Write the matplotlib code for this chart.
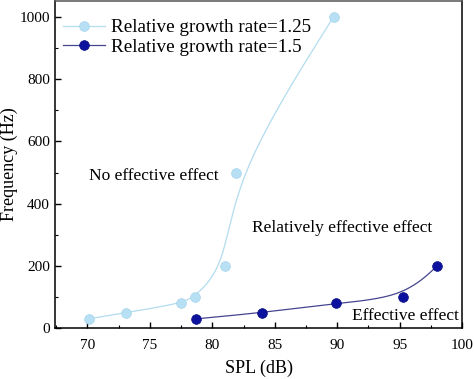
import matplotlib
matplotlib.use("Agg")
import matplotlib.pyplot as plt
from matplotlib.ticker import MultipleLocator
import numpy as np

# data
spl_125 = [70.1, 73.1, 77.5, 78.6, 81.0, 81.9, 89.7]
freq_125 = [30, 50, 80, 100, 200, 500, 1000]
spl_15 = [78.7, 84.0, 89.9, 95.3, 98.0]
freq_15 = [30, 50, 80, 100, 200]

label_125 = "Relative growth rate=1.25"
label_15 = "Relative growth rate=1.5"


def bspline(x, y, n=60):
    # clamped uniform cubic B-spline through end points (Origin style)
    p = np.column_stack([x, y]).astype(float)
    p = np.vstack([p[0], p[0], p, p[-1], p[-1]])
    M = np.array([[-1, 3, -3, 1], [3, -6, 3, 0], [-3, 0, 3, 0], [1, 4, 1, 0]]) / 6.0
    out = []
    t = np.linspace(0, 1, n)
    T = np.column_stack([t**3, t**2, t, np.ones_like(t)])
    for i in range(len(p) - 3):
        out.append(T @ M @ p[i:i + 4])
    out = np.vstack(out)
    return out[:, 0], out[:, 1]


plt.rcParams["font.family"] = ["Liberation Serif", "DejaVu Serif"]

fig = plt.figure(figsize=(4.74, 3.79), dpi=100)
ax = fig.add_axes([0.116, 0.134, 0.859, 0.864])

c_light_line = "#b3dcef"
c_light_mk = "#b7e0f4"
c_dark_line = "#45458f"
c_dark_mk = "#0c129e"
ms = 7

xs, ys = bspline(spl_125, freq_125)
ax.plot(xs, ys, color=c_light_line, lw=0.9, zorder=2)
xs, ys = bspline(spl_15, freq_15)
ax.plot(xs, ys, color=c_dark_line, lw=0.9, zorder=2)

ax.plot(spl_125, freq_125, "o", ms=ms, mfc=c_light_mk, mec="#a6d4ec", mew=0.5, zorder=3)
ax.plot(spl_15, freq_15, "o", ms=ms, mfc=c_dark_mk, mec="#0a0e80", mew=0.5, zorder=3)

# legend handles
h1, = ax.plot([], [], "-o", color=c_light_line, lw=0.9, ms=ms, mfc=c_light_mk, mec="#a6d4ec", mew=0.5)
h2, = ax.plot([], [], "-o", color=c_dark_line, lw=0.9, ms=ms, mfc=c_dark_mk, mec="#0a0e80", mew=0.5)
ax.legend([h1, h2], [label_125, label_15], loc="upper left", frameon=False,
          fontsize=13.8, handlelength=2.2, handletextpad=0.3, labelspacing=0.1,
          borderaxespad=0.0, bbox_to_anchor=(0.0, 0.968))

ax.text(70.1, 490, "No effective effect", fontsize=12.5, va="center", ha="left")
ax.text(83.2, 322, "Relatively effective effect", fontsize=12.5, va="center", ha="left")
ax.text(99.7, 40, "Effective effect", fontsize=12.5, va="center", ha="right")

ax.set_xlim(67.4, 100)
ax.set_ylim(0, 1052)
ax.xaxis.set_major_locator(MultipleLocator(5))
ax.xaxis.set_minor_locator(MultipleLocator(2.5))
ax.yaxis.set_major_locator(MultipleLocator(200))
ax.yaxis.set_minor_locator(MultipleLocator(100))
ax.tick_params(which="both", direction="in", top=False, right=False, labelsize=11)
ax.tick_params(which="major", length=4, width=1)
ax.tick_params(which="minor", length=2.5, width=0.8)
ax.tick_params(axis="x", pad=8)

for s in ax.spines.values():
    s.set_linewidth(1.1)
ax.spines["top"].set_color("#555555")

ax.set_xlabel("SPL (dB)", fontsize=13, labelpad=5)
ax.set_ylabel("Frequency (Hz)", fontsize=13)
ax.yaxis.set_label_coords(-0.092, 0.5)

fig.savefig("out.png", dpi=100)
